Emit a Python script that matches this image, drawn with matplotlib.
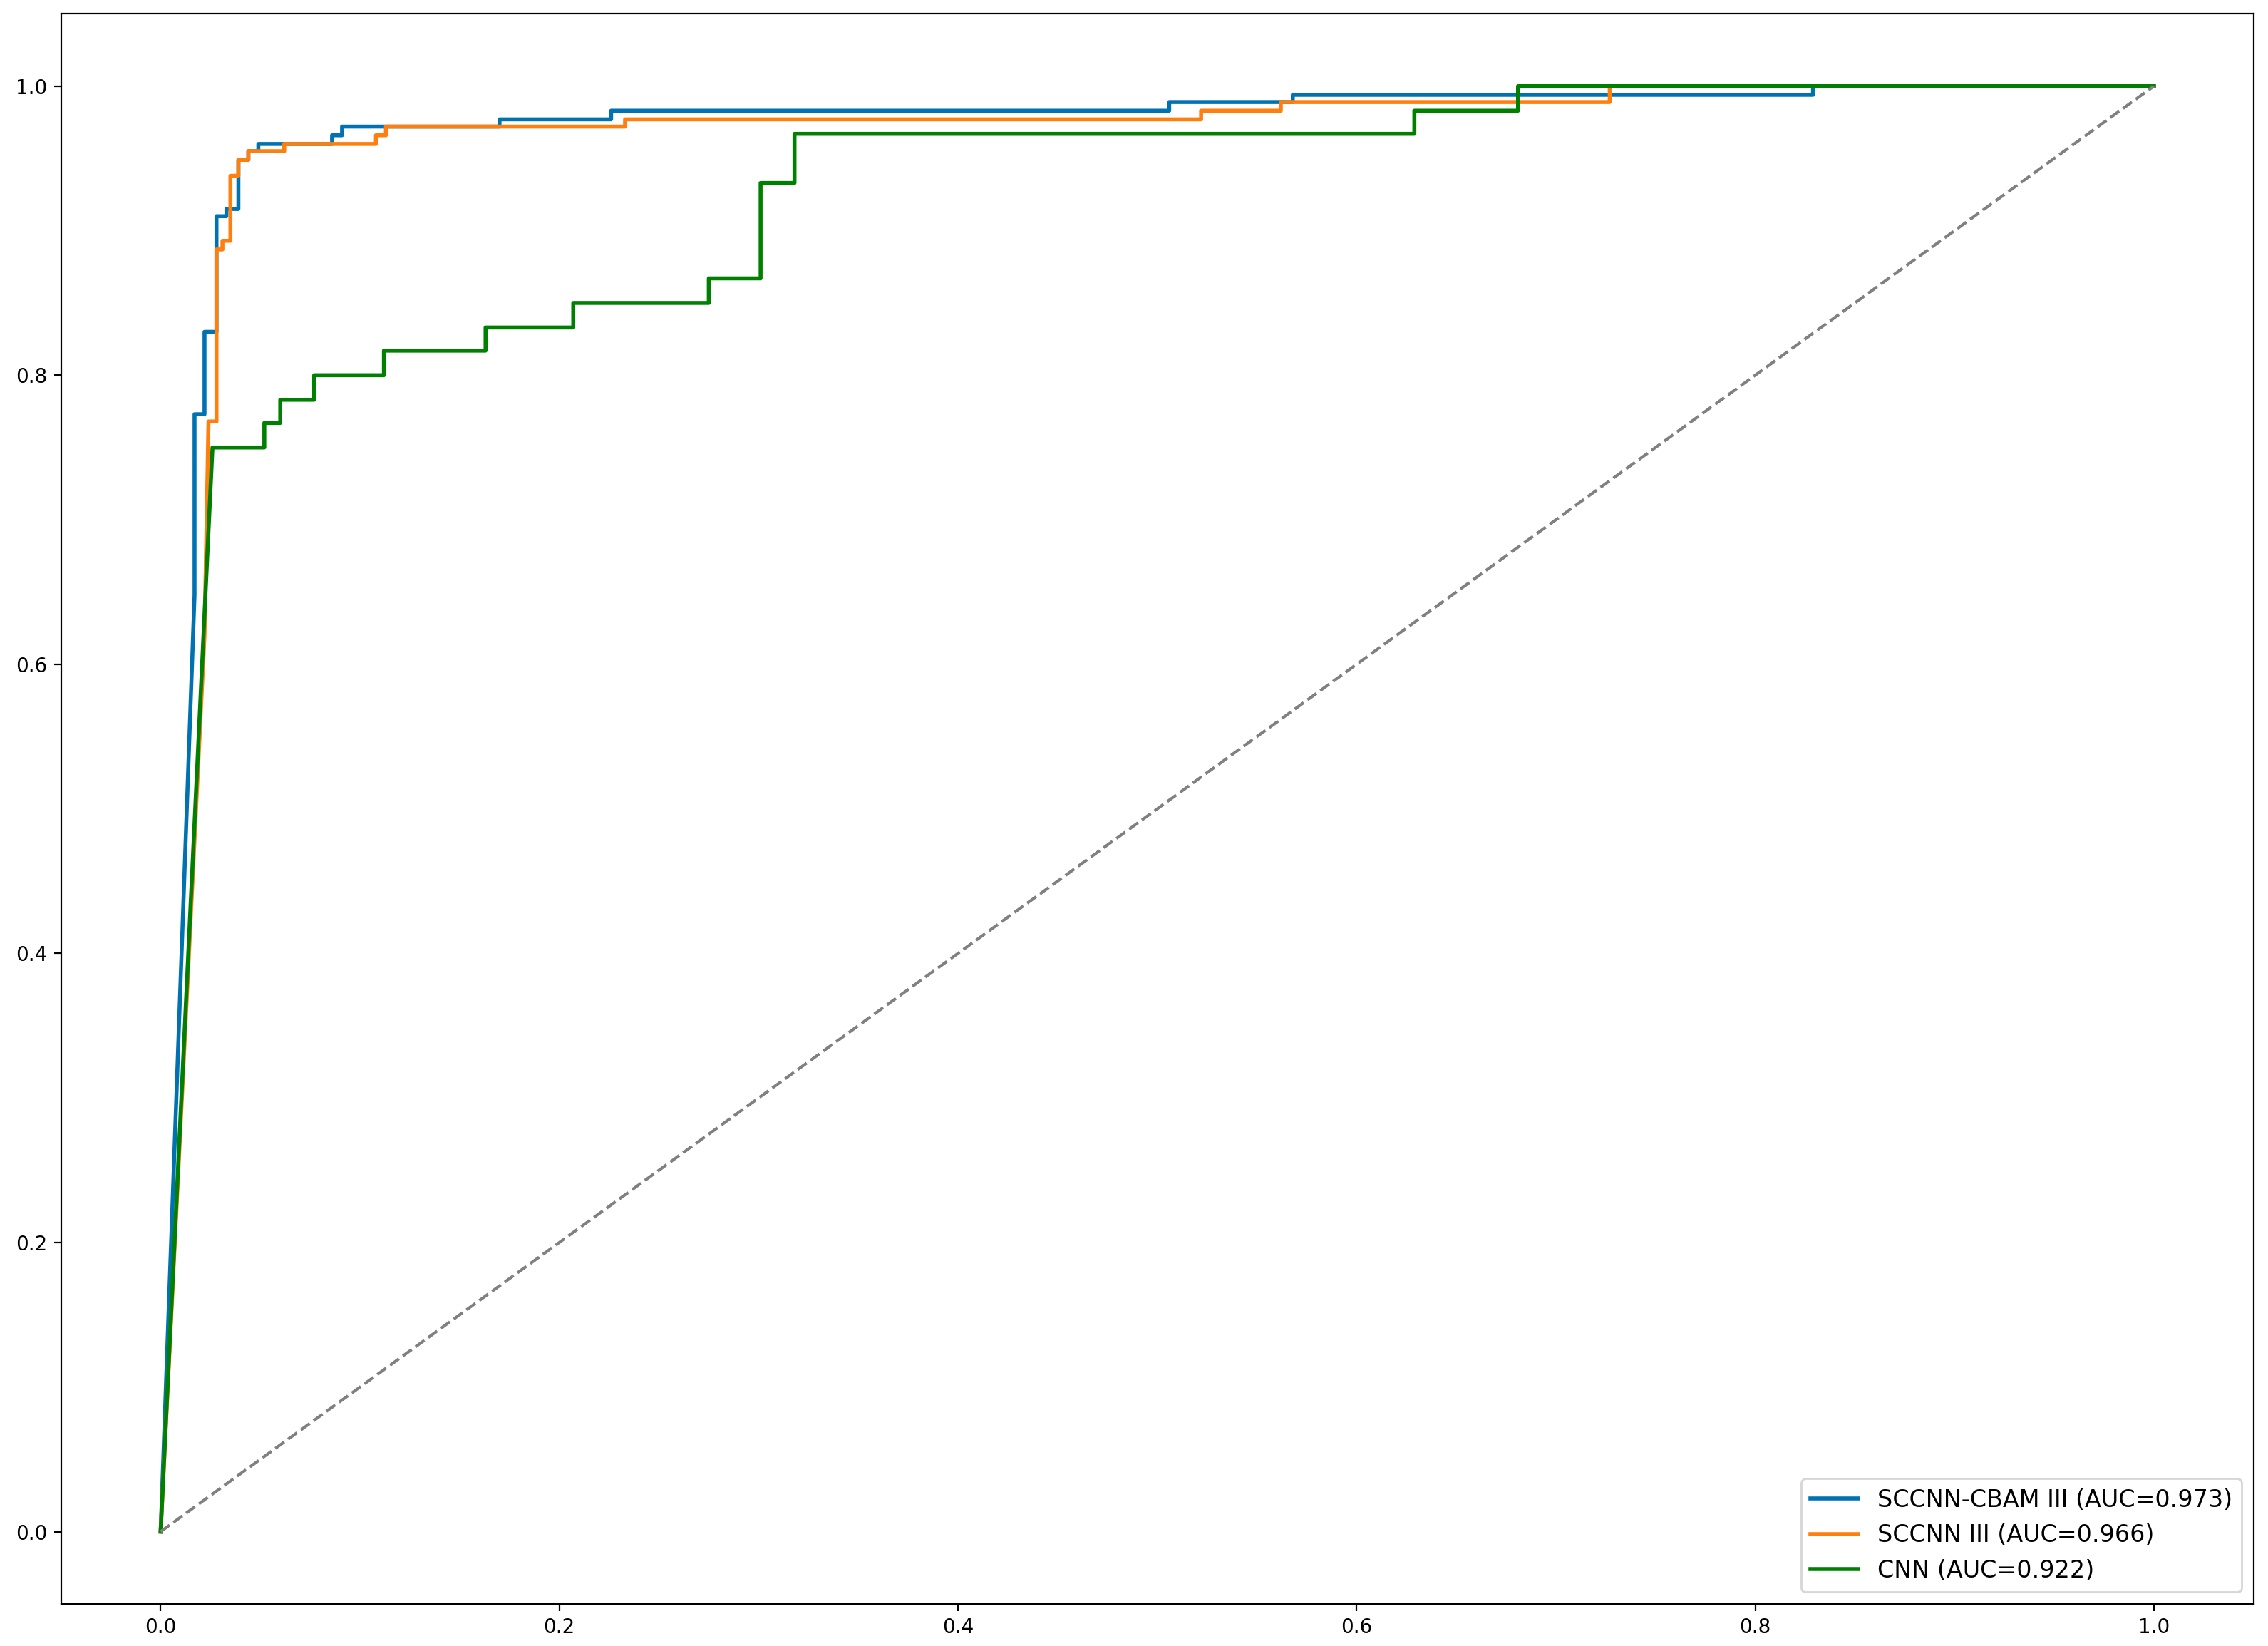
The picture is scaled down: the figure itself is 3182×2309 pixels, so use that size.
import matplotlib
matplotlib.use("Agg")
import matplotlib.pyplot as plt

blue_fpr = [0, 0.017, 0.017, 0.022, 0.022, 0.028, 0.028, 0.033, 0.033, 0.039, 0.039, 0.044, 0.044, 0.049, 0.049, 0.086, 0.086, 0.091, 0.091, 0.170, 0.170, 0.226, 0.226, 0.506, 0.506, 0.568, 0.568, 0.829, 0.829, 1.0]
blue_tpr = [0, 0.648, 0.773, 0.773, 0.830, 0.830, 0.910, 0.910, 0.915, 0.915, 0.949, 0.949, 0.955, 0.955, 0.960, 0.960, 0.966, 0.966, 0.972, 0.972, 0.977, 0.977, 0.983, 0.983, 0.989, 0.989, 0.994, 0.994, 1.0, 1.0]

orange_fpr = [0, 0.022, 0.024, 0.028, 0.028, 0.031, 0.031, 0.035, 0.035, 0.039, 0.039, 0.044, 0.044, 0.049, 0.049, 0.062, 0.062, 0.108, 0.108, 0.113, 0.113, 0.233, 0.233, 0.522, 0.522, 0.562, 0.562, 0.727, 0.727, 1.0]
orange_tpr = [0, 0.62, 0.768, 0.768, 0.887, 0.887, 0.893, 0.893, 0.938, 0.938, 0.949, 0.949, 0.955, 0.955, 0.955, 0.955, 0.960, 0.960, 0.966, 0.966, 0.972, 0.972, 0.977, 0.977, 0.983, 0.983, 0.989, 0.989, 1.0, 1.0]

green_fpr = [0, 0.026, 0.052, 0.052, 0.060, 0.060, 0.077, 0.077, 0.112, 0.112, 0.163, 0.163, 0.207, 0.207, 0.275, 0.275, 0.301, 0.301, 0.318, 0.318, 0.629, 0.629, 0.681, 0.681, 1.0]
green_tpr = [0, 0.750, 0.750, 0.767, 0.767, 0.783, 0.783, 0.800, 0.800, 0.817, 0.817, 0.833, 0.833, 0.850, 0.850, 0.867, 0.867, 0.933, 0.933, 0.967, 0.967, 0.983, 0.983, 1.0, 1.0]

labels = ["SCCNN-CBAM III (AUC=0.973)", "SCCNN III (AUC=0.966)", "CNN (AUC=0.922)"]

fig = plt.figure(figsize=(15.91, 11.545), dpi=200)
ax = fig.add_axes([0.0269, 0.0256, 0.9667, 0.966])
ax.plot(blue_fpr, blue_tpr, color="#0072B2", lw=2, label=labels[0])
ax.plot(orange_fpr, orange_tpr, color="#ff7f0e", lw=2, label=labels[1])
ax.plot(green_fpr, green_tpr, color="green", lw=2, label=labels[2])
ax.plot([0, 1], [0, 1], color="gray", ls="--", lw=1.5)
ax.set_xlim(-0.05, 1.05)
ax.set_ylim(-0.05, 1.05)
ax.legend(loc="lower right", fontsize=12)
fig.savefig("out.png", dpi=200)
